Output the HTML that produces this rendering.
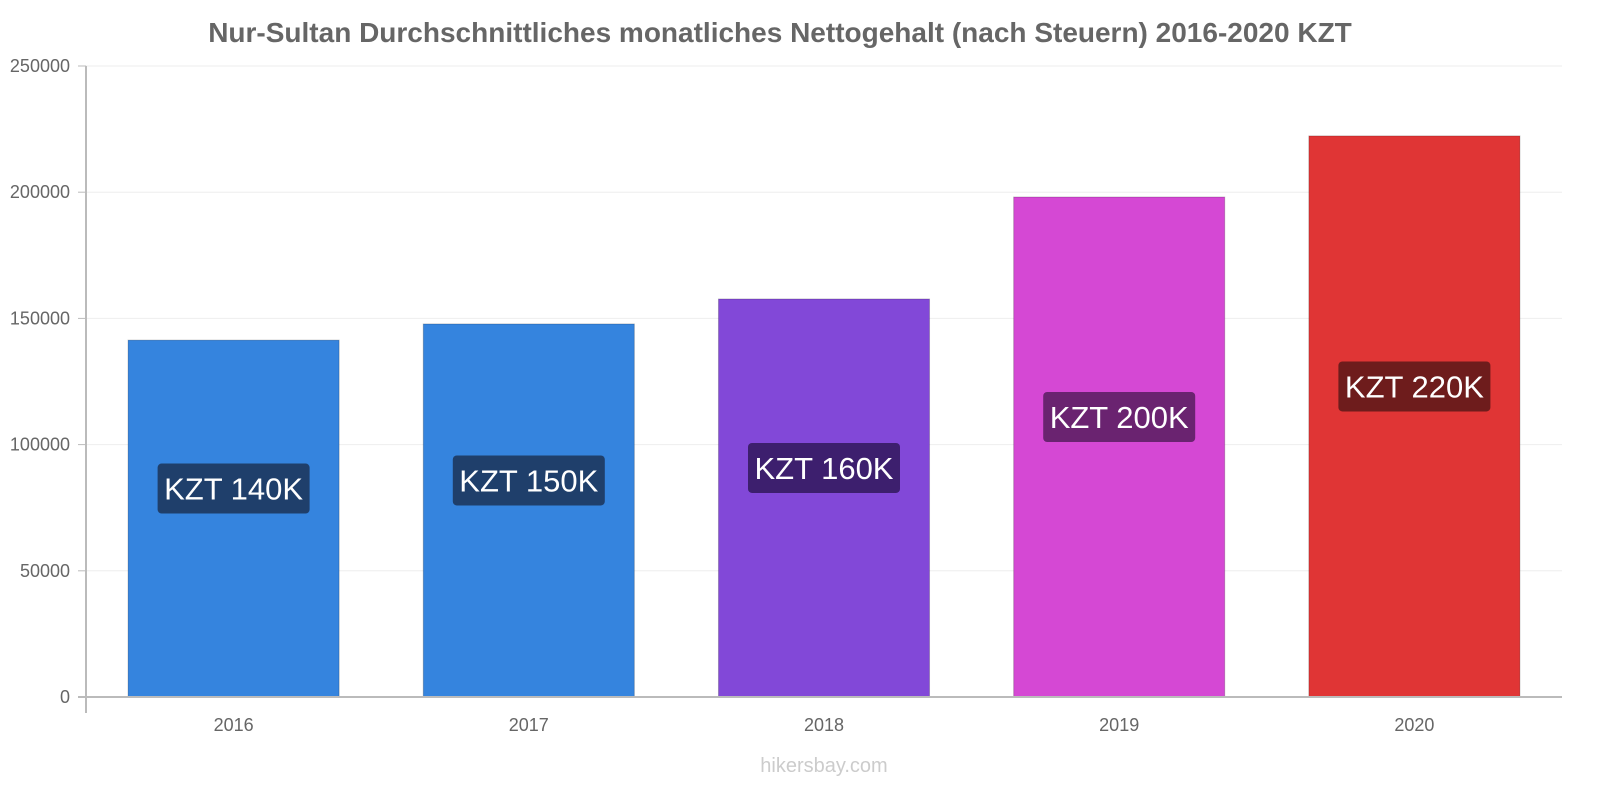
<!DOCTYPE html>
<html><head><meta charset="utf-8"><style>
body{margin:0;background:#fff;font-family:"Liberation Sans",sans-serif;}
svg{display:block}
</style></head><body>
<svg id="chart" width="1600" height="800">
<text x="780" y="42" text-anchor="middle" font-size="28" font-weight="bold" fill="#666">Nur-Sultan Durchschnittliches monatliches Nettogehalt (nach Steuern) 2016-2020 KZT</text>
<g id="grid"></g><g id="bars"></g><g id="axes"></g>
<text x="824" y="772" text-anchor="middle" font-size="20" fill="#ccc">hikersbay.com</text>
</svg>
<script>
const categories=["2016","2017","2018","2019","2020"];
const values=[141400,147800,157700,198100,222300];
const valueLabels=["KZT 140K","KZT 150K","KZT 160K","KZT 200K","KZT 220K"];
const yTicks=[0,50000,100000,150000,200000,250000];
const barColors=["#3584de","#3584de","#8248d8","#d548d4","#e03535"];
const labelColors=["#1f3f6b","#1f3f6b","#3d1f6e","#6a2370","#6e1c1c"];
const NS="http://www.w3.org/2000/svg";
const x0=86,x1=1562,y0=697,yTop=66,yMax=250000;
const band=(x1-x0)/categories.length;
const y=v=>y0-(v/yMax)*(y0-yTop);
const xc=i=>x0+band*(i+0.5);
function mk(p,t,a){const e=document.createElementNS(NS,t);for(const k in a)e.setAttribute(k,a[k]);p.appendChild(e);return e;}
const g=document.getElementById('grid'),b=document.getElementById('bars'),ax=document.getElementById('axes');
yTicks.forEach(t=>{
 if(t>0){const l=mk(g,'line',{x1:x0,x2:x1,y1:y(t),y2:y(t),stroke:'#eee','stroke-width':1});
 
 }
 const tx=mk(ax,'text',{x:70,y:y(t)+6,'text-anchor':'end','font-size':18,fill:'#666'});
 tx.textContent=t;
 
 
 const tk=mk(ax,'line',{x1:78,x2:x0,y1:y(t),y2:y(t),stroke:'#bbb'});
 
 
});
const bw=band*0.715;
values.forEach((v,i)=>{
 const r=mk(b,'rect',{x:xc(i)-bw/2,y:y(v),width:bw,height:y0-y(v),fill:barColors[i],stroke:'rgba(0,0,0,0.2)'});
 
 
 const cy=(y(v)+y0)/2-30;
 const lb=mk(b,'rect',{x:xc(i)-76,y:cy-25,width:152,height:50,rx:4,fill:labelColors[i]});
 
 
 const lt=mk(b,'text',{x:xc(i),y:cy+11,'text-anchor':'middle','font-size':31,fill:'#fff'});
 lt.textContent=valueLabels[i];
 
 
 const xt=mk(ax,'text',{x:xc(i),y:731,'text-anchor':'middle','font-size':18,fill:'#666'});
 xt.textContent=categories[i];
 
 
});
const ya=mk(ax,'line',{x1:x0,x2:x0,y1:yTop,y2:713,stroke:'#bbb','stroke-width':2});


const xa=mk(ax,'line',{x1:78,x2:x1,y1:y0,y2:y0,stroke:'#bbb','stroke-width':2});


</script>
</body></html>
